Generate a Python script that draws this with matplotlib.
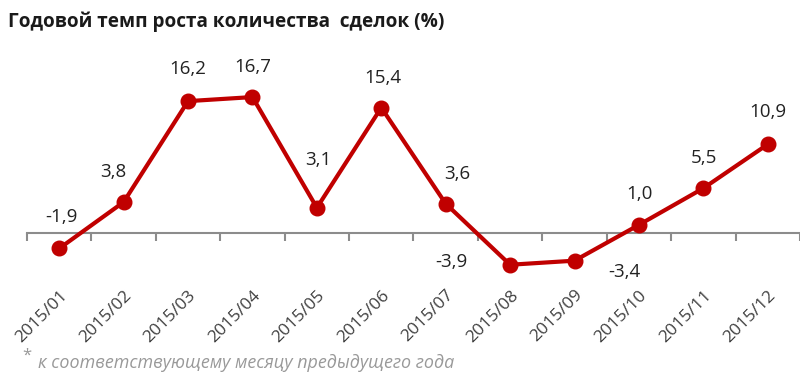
import matplotlib
matplotlib.use("Agg")
import matplotlib.pyplot as plt
import numpy as np

plt.rcParams['font.family'] = ['Open Sans', 'DejaVu Sans']

categories = ["2015/01", "2015/02", "2015/03", "2015/04", "2015/05", "2015/06",
              "2015/07", "2015/08", "2015/09", "2015/10", "2015/11", "2015/12"]
values = [-1.9, 3.8, 16.2, 16.7, 3.1, 15.4, 3.6, -3.9, -3.4, 1.0, 5.5, 10.9]
labels = ["-1,9", "3,8", "16,2", "16,7", "3,1", "15,4", "3,6", "-3,9", "-3,4", "1,0", "5,5", "10,9"]
# label offsets in pixels (dx, dy upward)
label_offsets = [(2, 31), (-10, 30), (0, 32), (0, 30), (1, 48), (2, 30), (12, 30),
                 (-59, 3), (50, -11), (1, 31), (1, 30), (0, 32)]

title = "Годовой темп роста количества  сделок (%)"
footnote = "к соответствующему месяцу предыдущего года"

W, H = 800, 379
fig = plt.figure(figsize=(W / 100, H / 100), dpi=100)
ax_left = 27 / W
ax_right = 800 / W
ymin, ymax = -6, 20
ppu = 8.14
zero_px = 233
top_px = zero_px - ymax * ppu
bot_px = zero_px - ymin * ppu
ax = fig.add_axes([ax_left, 1 - bot_px / H, ax_right - ax_left, (bot_px - top_px) / H])

x = np.arange(len(categories))
red = "#C00000"
ax.plot(x, values, color=red, lw=3.0, marker='o', markersize=10.5, zorder=3,
        solid_joinstyle='round', clip_on=False)

for xi, v, lab, (dx, dy) in zip(x, values, labels, label_offsets):
    ax.annotate(lab, (xi, v), xytext=(dx, dy), textcoords='offset pixels',
                ha='center', va='center', fontsize=13.5, color='#222222',
                annotation_clip=False)

ax.set_xlim(-0.5, len(categories) - 0.5)
ax.set_ylim(ymin, ymax)
ax.set_yticks([])
for s in ['left', 'right', 'top']:
    ax.spines[s].set_visible(False)
ax.spines['bottom'].set_position(('data', 0))
ax.spines['bottom'].set_color('#8c8c8c')
ax.spines['bottom'].set_linewidth(1.5)

ax.set_xticks(x)
ax.set_xticklabels(categories, rotation=45, ha='right', va='top',
                   rotation_mode='anchor', fontsize=12.5, color='#404040')
ax.tick_params(axis='x', which='major', length=0, pad=39)
ax.set_xticks(np.arange(-0.5, len(categories), 1.0), minor=True)
ax.tick_params(axis='x', which='minor', length=6, width=1.5, color='#8c8c8c', direction='out')
ax.patch.set_alpha(0)

fig.text(8 / W, 1 - 22 / H, title, fontsize=13.7, fontweight='bold', color='#1a1a1a',
         ha='left', va='center')
fig.text(22 / W, 1 - 356 / H, "*", fontsize=12, color='#999999', ha='left', va='center')
fig.text(38 / W, 1 - 363 / H, footnote, fontsize=12.9, style='italic', color='#999999',
         ha='left', va='center')

fig.savefig("out.png", dpi=100)
